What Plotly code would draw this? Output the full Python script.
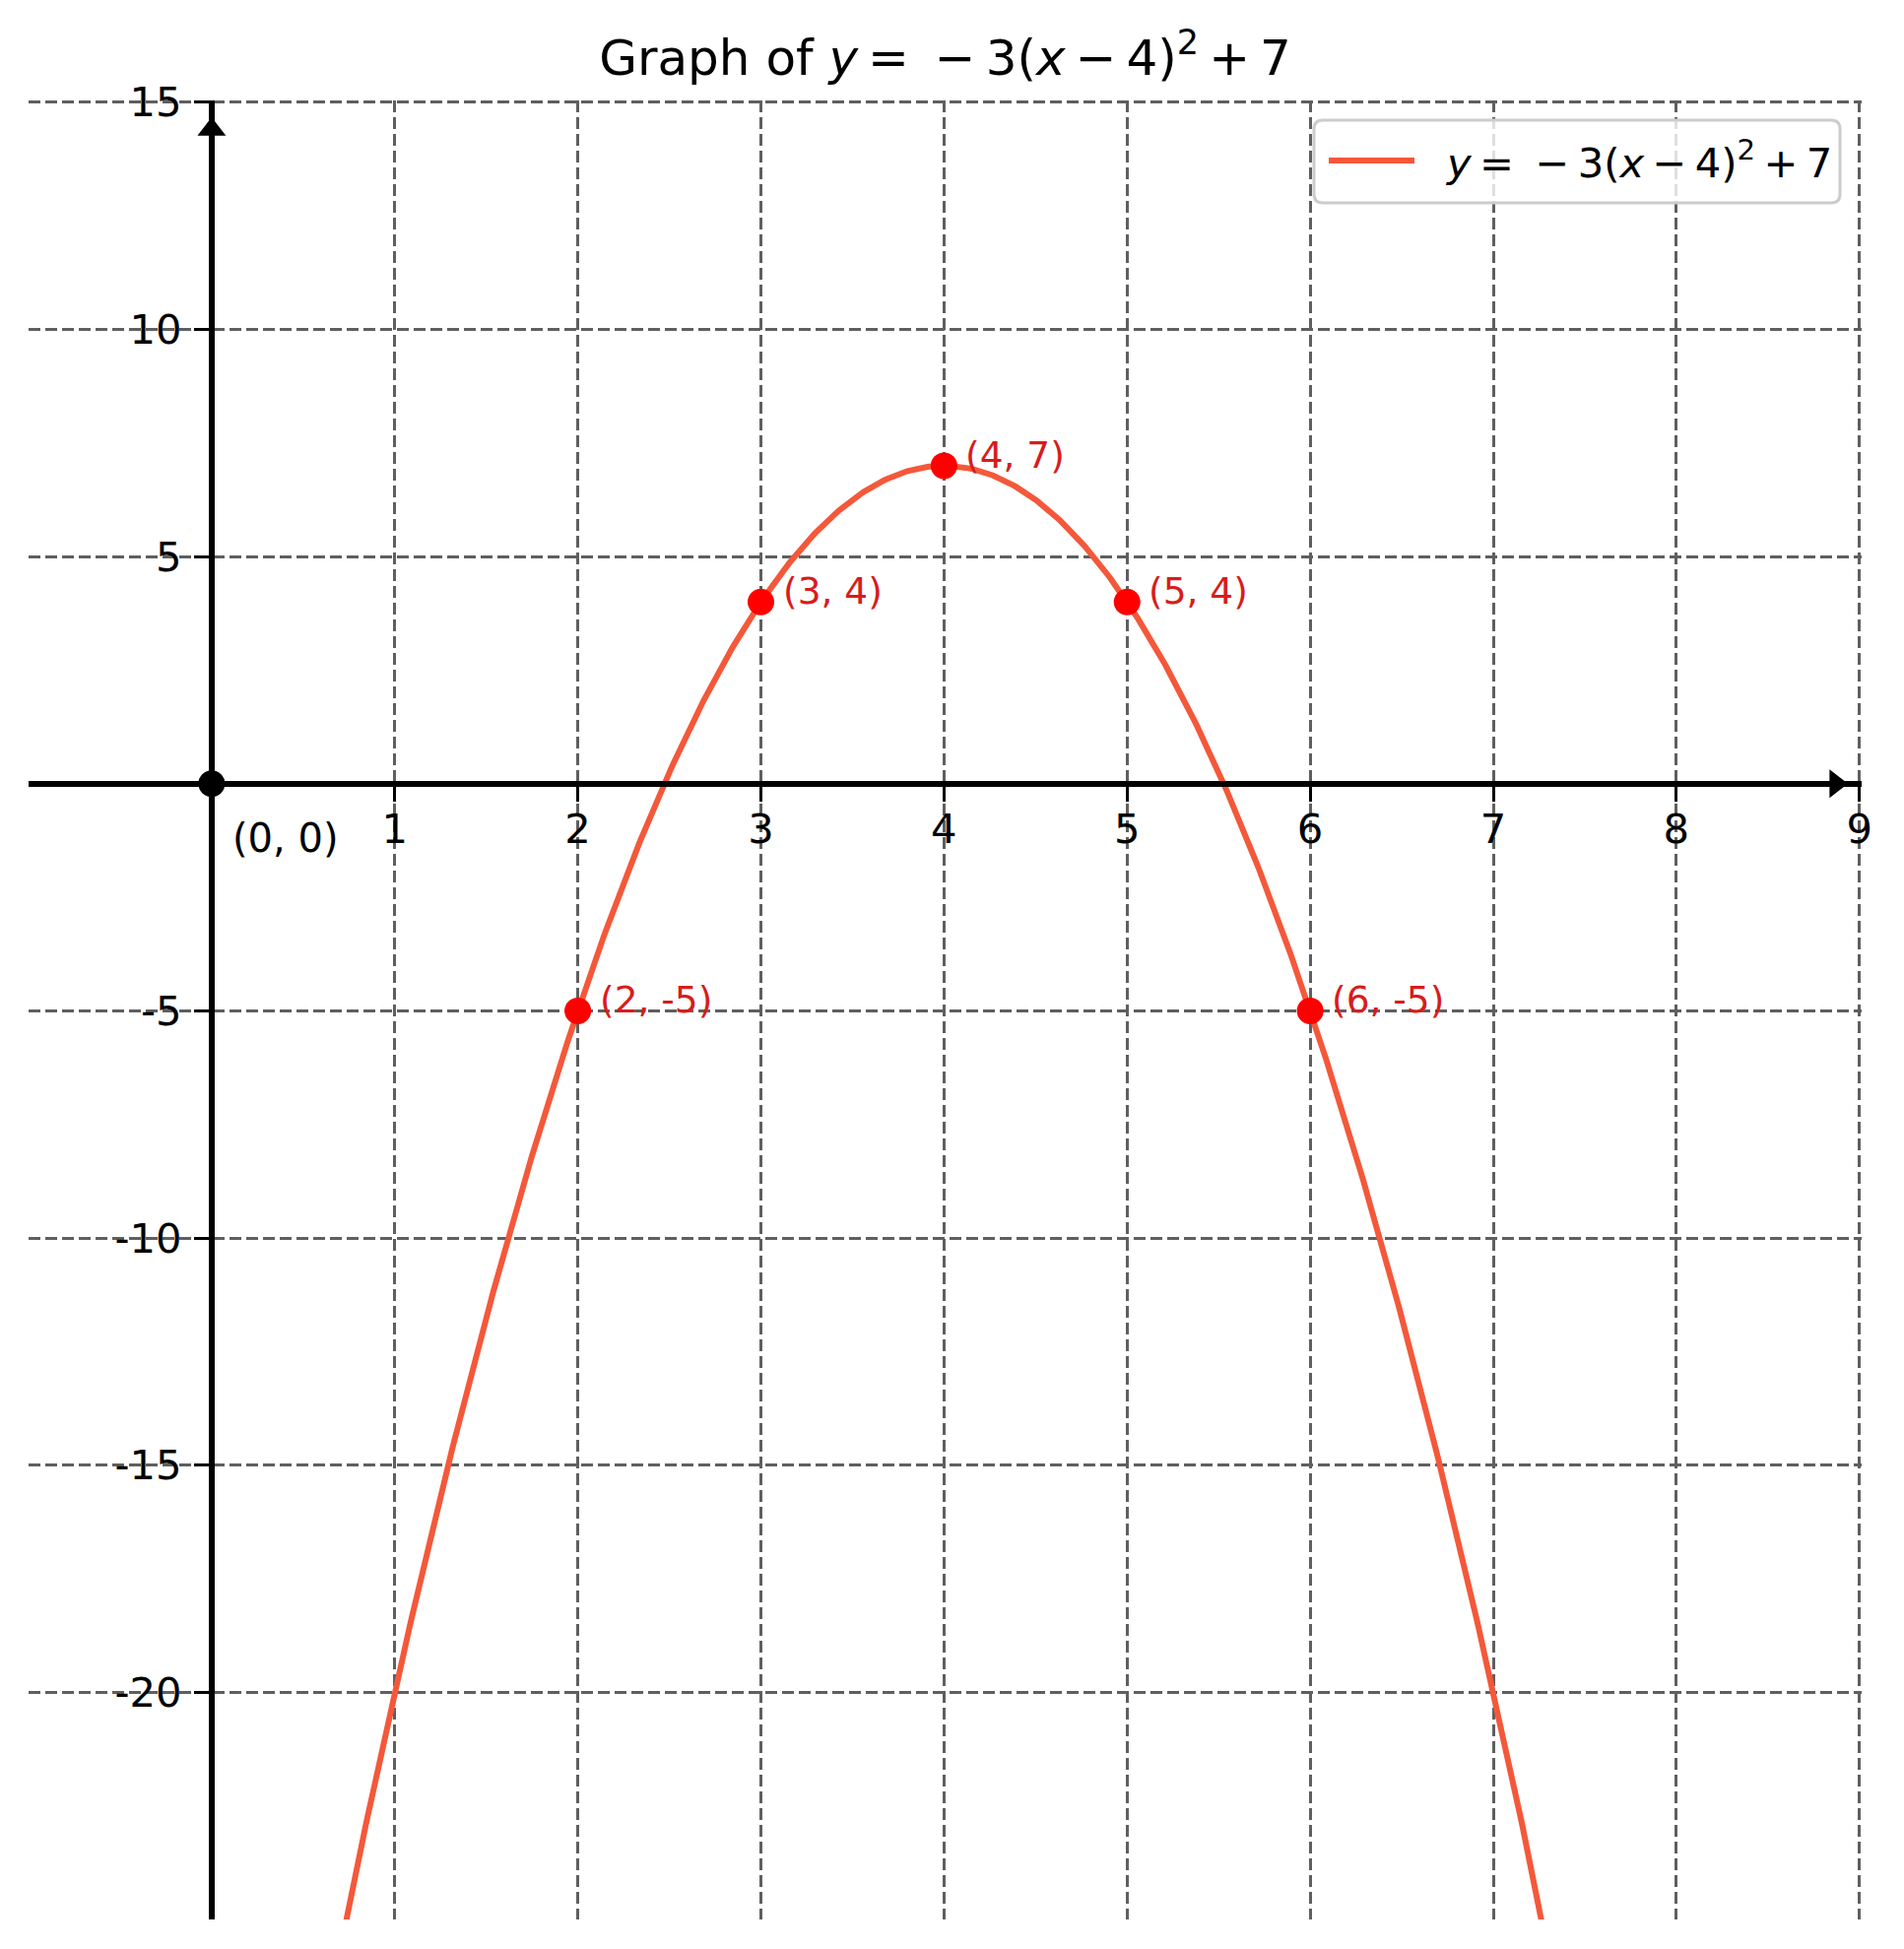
import numpy as np
import plotly.graph_objects as go

# Function parameters y = a(x-h)^2 + k
a, h, k = -3, 4, 7

# Marked points
pt_x = [2, 3, 4, 5, 6]
pt_y = [-5, 4, 7, 4, -5]
pt_labels = ["(2, -5)", "(3, 4)", "(4, 7)", "(5, 4)", "(6, -5)"]

# Axis ticks
x_ticks = [1, 2, 3, 4, 5, 6, 7, 8, 9]
y_ticks = [-20, -15, -10, -5, 5, 10, 15]
x_range = [-1, 9.012]
y_range = [-25, 15.04]

curve_x = np.linspace(-1, 9, 1001)
curve_y = a * (curve_x - h) ** 2 + k

FONT = "DejaVu Sans"
CURVE_COLOR = "#f4583a"
GRID_COLOR = "#5f5f5f"
TS = "\u2009"
FORMULA = f"<i>y</i>{TS}={TS} −{TS}3(<i>x</i>{TS}−{TS}4)<sup>2</sup>{TS}+{TS}7"

# plot-area geometry (px) used for the legend box placement
W, H = 1933, 1979
ML, MR, MT, MB = 21, 51, 94, 38
PW, PH = W - ML - MR, H - MT - MB


def px2paper(xp, yp):
    # screen px (page has 8px body offset) -> paper coords
    return (xp - 8 - ML) / PW, (H - MB + 8 - yp) / PH


fig = go.Figure()

fig.add_trace(go.Scatter(
    x=curve_x, y=curve_y, mode="lines",
    line=dict(color=CURVE_COLOR, width=6),
    name=FORMULA, showlegend=False,
))

fig.add_trace(go.Scatter(
    x=pt_x, y=pt_y, mode="markers",
    marker=dict(color="#ff0000", size=27, line=dict(width=0)),
    showlegend=False,
))

# origin dot and axis arrows
fig.add_trace(go.Scatter(
    x=[0], y=[0], mode="markers",
    marker=dict(color="black", size=27), showlegend=False,
))
fig.add_trace(go.Scatter(
    x=[8.87], y=[0], mode="markers",
    marker=dict(color="black", size=25, symbol="triangle-right"), showlegend=False,
))
fig.add_trace(go.Scatter(
    x=[0], y=[14.4], mode="markers",
    marker=dict(color="black", size=25, symbol="triangle-up"), showlegend=False,
))

annotations = []
for xv, yv, lab in zip(pt_x, pt_y, pt_labels):
    annotations.append(dict(
        x=xv, y=yv, xref="x", yref="y", text=lab, showarrow=False,
        xanchor="left", yanchor="middle", xshift=20, yshift=11,
        font=dict(family=FONT, size=37.5, color="#d81c1c"),
    ))
annotations.append(dict(
    x=0, y=0, xref="x", yref="y", text="(0, 0)", showarrow=False,
    xanchor="left", yanchor="middle", xshift=19, yshift=-55,
    font=dict(family=FONT, size=40, color="black"),
))

# legend (box, line sample, label)
bx0, by0 = px2paper(1334, 206)
bx1, by1 = px2paper(1868, 122)
rx, ry = 9 / PW, 9 / PH
legend_path = (
    f"M {bx0 + rx},{by0} L {bx1 - rx},{by0} Q {bx1},{by0} {bx1},{by0 + ry} "
    f"L {bx1},{by1 - ry} Q {bx1},{by1} {bx1 - rx},{by1} "
    f"L {bx0 + rx},{by1} Q {bx0},{by1} {bx0},{by1 - ry} "
    f"L {bx0},{by0 + ry} Q {bx0},{by0} {bx0 + rx},{by0} Z"
)
lx0, ly = px2paper(1349, 163)
lx1, _ = px2paper(1436, 163)
tx, ty = px2paper(1465, 163)
shapes = [
    dict(type="path", path=legend_path, xref="paper", yref="paper",
         fillcolor="rgba(255,255,255,0.8)", line=dict(color="#cccccc", width=3),
         layer="above"),
    dict(type="line", x0=lx0, x1=lx1, y0=ly, y1=ly, xref="paper", yref="paper",
         line=dict(color=CURVE_COLOR, width=6), layer="above"),
]
annotations.append(dict(
    x=tx, y=ty, xref="paper", yref="paper", text=FORMULA, showarrow=False,
    xanchor="left", yanchor="middle",
    font=dict(family=FONT, size=41.7, color="black"),
))

axis_common = dict(
    showline=True, linecolor="black", linewidth=6,
    ticks="outside", ticklen=15, tickwidth=3, tickcolor="black",
    tickfont=dict(family=FONT, size=41.7, color="black"),
    showgrid=True, gridcolor=GRID_COLOR, gridwidth=3.4, griddash="12px,5px",
    zeroline=False, anchor="free",
)

fig.update_layout(
    width=W, height=H,
    margin=dict(l=ML, r=MR, t=MT, b=MB),
    paper_bgcolor="white", plot_bgcolor="white",
    title=dict(
        text="Graph of " + FORMULA,
        font=dict(family=FONT, size=50, color="black"),
        x=0.5, xref="paper", xanchor="center",
        y=1 - 50 / H, yref="container", yanchor="middle",
    ),
    xaxis=dict(range=x_range, tickvals=x_ticks, ticktext=[str(v) for v in x_ticks],
               position=(0 - y_range[0]) / (y_range[1] - y_range[0]),
               ticklabelstandoff=-8, **axis_common),
    yaxis=dict(range=y_range, tickvals=y_ticks, ticktext=[str(v) for v in y_ticks],
               position=(0 - x_range[0]) / (x_range[1] - x_range[0]),
               ticklabelstandoff=4, **axis_common),
    shapes=shapes,
    annotations=annotations,
    showlegend=False,
)

fig.write_html("out.html")
